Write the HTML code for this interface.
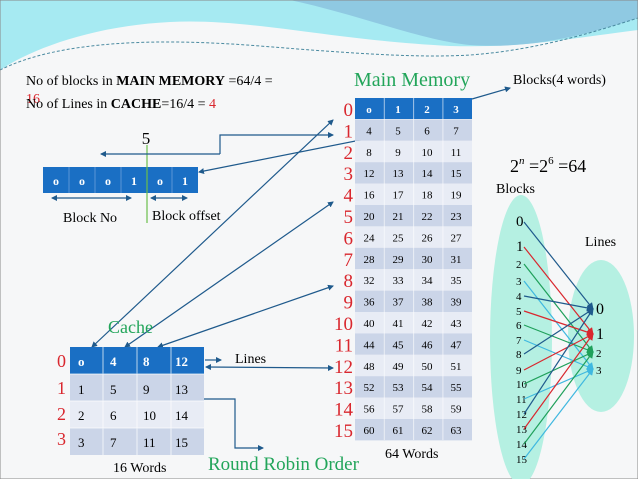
<!DOCTYPE html>
<html><head><meta charset="utf-8"><style>
html,body{margin:0;padding:0;background:#fff}
svg{display:block}
text{font-family:"Liberation Serif",serif}
</style></head><body>
<svg width="638" height="479" viewBox="0 0 638 479" xmlns="http://www.w3.org/2000/svg">
<defs>
<marker id="a" markerWidth="6" markerHeight="6" refX="5" refY="3" orient="auto-start-reverse" markerUnits="userSpaceOnUse"><path d="M0,0 L6,3 L0,6z" fill="#1f5a8c"/></marker>
<marker id="ar" markerWidth="7" markerHeight="7" refX="6" refY="3.5" orient="auto" markerUnits="userSpaceOnUse"><path d="M0,0 L7,3.5 L0,7z" fill="#d9272e"/></marker>
<marker id="ag" markerWidth="7" markerHeight="7" refX="6" refY="3.5" orient="auto" markerUnits="userSpaceOnUse"><path d="M0,0 L7,3.5 L0,7z" fill="#1fa05a"/></marker>
<marker id="ac" markerWidth="7" markerHeight="7" refX="6" refY="3.5" orient="auto" markerUnits="userSpaceOnUse"><path d="M0,0 L7,3.5 L0,7z" fill="#3fb8e0"/></marker>
<marker id="ad" markerWidth="7" markerHeight="7" refX="6" refY="3.5" orient="auto" markerUnits="userSpaceOnUse"><path d="M0,0 L7,3.5 L0,7z" fill="#1f5a8c"/></marker>
</defs>
<rect width="638" height="479" fill="#f6f7f8"/>
<path d="M0,0 H638 V30 C560,40 520,48 450,46 C330,40 250,18 170,22 C90,26 30,50 0,70 Z" fill="#a6eaf2"/>
<path d="M290,0 H638 V18 C600,30 540,50 470,45 C420,40 360,15 290,0 Z" fill="#8fc9e2"/>
<path d="M0,70 C60,40 160,38 260,46 C360,54 420,58 470,55 C540,50 600,30 638,18" fill="none" stroke="#4a8aa0" stroke-width="1" stroke-dasharray="3,2"/>
<path d="M0,0 H638 V479 H0 Z" fill="none" stroke="#888" stroke-width="1"/>

<text x="26" y="85" font-size="14">No of blocks in <tspan font-weight="bold">MAIN MEMORY</tspan> =64/4 =</text>
<text x="26" y="103" font-size="14" fill="#d9272e">16</text>
<text x="26" y="108" font-size="14">No of Lines in <tspan font-weight="bold">CACHE</tspan>=16/4 = <tspan fill="#d9272e">4</tspan></text>
<text x="354" y="86" font-size="20" fill="#22a55a">Main Memory</text>
<text x="513" y="84" font-size="14">Blocks(4 words)</text>
<line x1="472" y1="99" x2="510" y2="88" stroke="#1f5a8c" stroke-width="1.2" marker-end="url(#a)"/>

<rect x="43" y="167" width="155" height="26" fill="#1a6fc4"/>
<g stroke="#5b95d6" stroke-width="1"><line x1="69" y1="167" x2="69" y2="193"/><line x1="95" y1="167" x2="95" y2="193"/><line x1="121" y1="167" x2="121" y2="193"/><line x1="147" y1="167" x2="147" y2="193"/><line x1="172" y1="167" x2="172" y2="193"/></g>
<g fill="#fff" font-size="12" font-weight="bold" text-anchor="middle"><text x="56" y="185">o</text><text x="82" y="185">o</text><text x="108" y="185">o</text><text x="134" y="185">1</text><text x="160" y="185">o</text><text x="185" y="185">1</text></g>
<text x="146" y="144" font-size="17" text-anchor="middle">5</text>
<line x1="147" y1="145" x2="147" y2="223" stroke="#6abf4b" stroke-width="1.2"/>
<line x1="52" y1="198" x2="131" y2="198" stroke="#1f5a8c" stroke-width="1.2" marker-end="url(#a)" marker-start="url(#a)"/>
<line x1="151" y1="198" x2="187" y2="198" stroke="#1f5a8c" stroke-width="1.2" marker-end="url(#a)" marker-start="url(#a)"/>
<text x="63" y="222" font-size="14">Block No</text>
<text x="152" y="220" font-size="14">Block offset</text>

<g stroke="#1f5a8c" stroke-width="1.2" fill="none">
<polyline points="220,154 220,135 333,135" marker-end="url(#a)"/>
<line x1="220" y1="154" x2="101" y2="154" marker-end="url(#a)"/>
<line x1="199" y1="172" x2="386" y2="135" marker-end="url(#a)" marker-start="url(#a)"/>
<line x1="92" y1="347" x2="333" y2="120" marker-end="url(#a)" marker-start="url(#a)"/>
<line x1="125" y1="347" x2="333" y2="202" marker-end="url(#a)" marker-start="url(#a)"/>
<line x1="158" y1="347" x2="333" y2="286" marker-end="url(#a)" marker-start="url(#a)"/>
<line x1="205" y1="360" x2="221" y2="360" marker-end="url(#a)"/>
<line x1="206" y1="367" x2="333" y2="368" marker-end="url(#a)" marker-start="url(#a)"/>
<polyline points="204,399 235,399 235,448 263,448" marker-end="url(#a)"/>
</g>

<rect x="355" y="98" width="117" height="21" fill="#1a6fc4"/>
<g fill="#fff" font-weight="bold" font-size="11" text-anchor="middle"><text x="369" y="113">o</text><text x="398" y="113">1</text><text x="427" y="113">2</text><text x="456" y="113">3</text></g>
<g id="mm"></g>
<g fill="#d9272e" font-size="19" text-anchor="end" id="mmr"></g>
<text x="385" y="458" font-size="14">64 Words</text>

<rect x="70" y="347" width="134" height="27" fill="#1a6fc4"/>
<rect x="70" y="374" width="134" height="27" fill="#cbd5e8"/>
<rect x="70" y="401" width="134" height="27" fill="#e8ecf5"/>
<rect x="70" y="428" width="134" height="27" fill="#cbd5e8"/>
<g stroke="#fff" stroke-width="1" opacity="0.7"><line x1="103" y1="347" x2="103" y2="455"/><line x1="137" y1="347" x2="137" y2="455"/><line x1="171" y1="347" x2="171" y2="455"/><line x1="70" y1="374" x2="204" y2="374"/><line x1="70" y1="401" x2="204" y2="401"/><line x1="70" y1="428" x2="204" y2="428"/></g>
<g font-size="13" fill="#fff" font-weight="bold"><text x="78" y="366">o</text><text x="110" y="366">4</text><text x="143" y="366">8</text><text x="175" y="366">12</text></g>
<g font-size="13"><text x="78" y="394">1</text><text x="110" y="394">5</text><text x="143" y="394">9</text><text x="175" y="394">13</text>
<text x="78" y="420">2</text><text x="110" y="420">6</text><text x="143" y="420">10</text><text x="175" y="420">14</text>
<text x="78" y="447">3</text><text x="110" y="447">7</text><text x="143" y="447">11</text><text x="175" y="447">15</text></g>
<g fill="#d9272e" font-size="18" text-anchor="end"><text x="66" y="367">0</text><text x="66" y="394">1</text><text x="66" y="420">2</text><text x="66" y="445">3</text></g>
<text x="108" y="333" font-size="18" fill="#22a55a">Cache</text>
<text x="235" y="363" font-size="14">Lines</text>
<text x="113" y="472" font-size="14">16 Words</text>
<text x="208" y="470" font-size="19" fill="#22a55a">Round Robin Order</text>

<text x="510" y="172" font-size="18">2<tspan font-size="11" dy="-8" font-style="italic">n</tspan><tspan dy="8"> =2</tspan><tspan font-size="11" dy="-8">6</tspan><tspan dy="8"> =64</tspan></text>
<text x="496" y="193" font-size="14">Blocks</text>
<text x="585" y="246" font-size="14">Lines</text>
<ellipse cx="521" cy="340" rx="31" ry="145" fill="#b5f0e2"/>
<ellipse cx="601" cy="336" rx="33" ry="76" fill="#b5f0e2"/>
<g id="rd"></g>
</svg>
<script>
var ns="http://www.w3.org/2000/svg";
function el(p,t,a,tx){var e=document.createElementNS(ns,t);for(var k in a)e.setAttribute(k,a[k]);if(tx!==undefined)e.textContent=tx;p.appendChild(e);return e;}
var mm=document.getElementById('mm'),mr=document.getElementById('mmr');
var rh=21.4;
for(var r=0;r<16;r++){var y=98+r*rh;
 if(r>0){el(mm,'rect',{x:355,y:y,width:117,height:rh,fill:(r%2?'#cbd5e8':'#e8ecf5')});
 for(var c=0;c<4;c++)el(mm,'text',{x:369+c*29,y:y+15,'font-size':11,'text-anchor':'middle'},String(r*4+c));}
 el(mr,'text',{x:353,y:y+18},String(r));}
for(var c=1;c<4;c++)el(mm,'line',{x1:355+c*29.3,y1:98,x2:355+c*29.3,y2:440,stroke:'#fff','stroke-width':1,opacity:.6});
var rd=document.getElementById('rd');
var by=[222,247,264,281,296,311,325,340,354,370,384,399,414,429,444,459];
var ly=[309,334,352,369];
var cols=['#1f5a8c','#d9272e','#1fa05a','#3fb8e0'],mk=['ad','ar','ag','ac'];
for(var i=0;i<16;i++){var s=i<2?15:11;
 el(rd,'text',{x:516,y:by[i]+4,'font-size':s},String(i));
 el(rd,'line',{x1:524,y1:by[i],x2:593,y2:ly[i%4],stroke:cols[i%4],'stroke-width':1.2,'marker-end':'url(#'+mk[i%4]+')'});}
for(var j=0;j<4;j++)el(rd,'text',{x:596,y:ly[j]+5,'font-size':j<2?16:11},String(j));
</script>
</body></html>
